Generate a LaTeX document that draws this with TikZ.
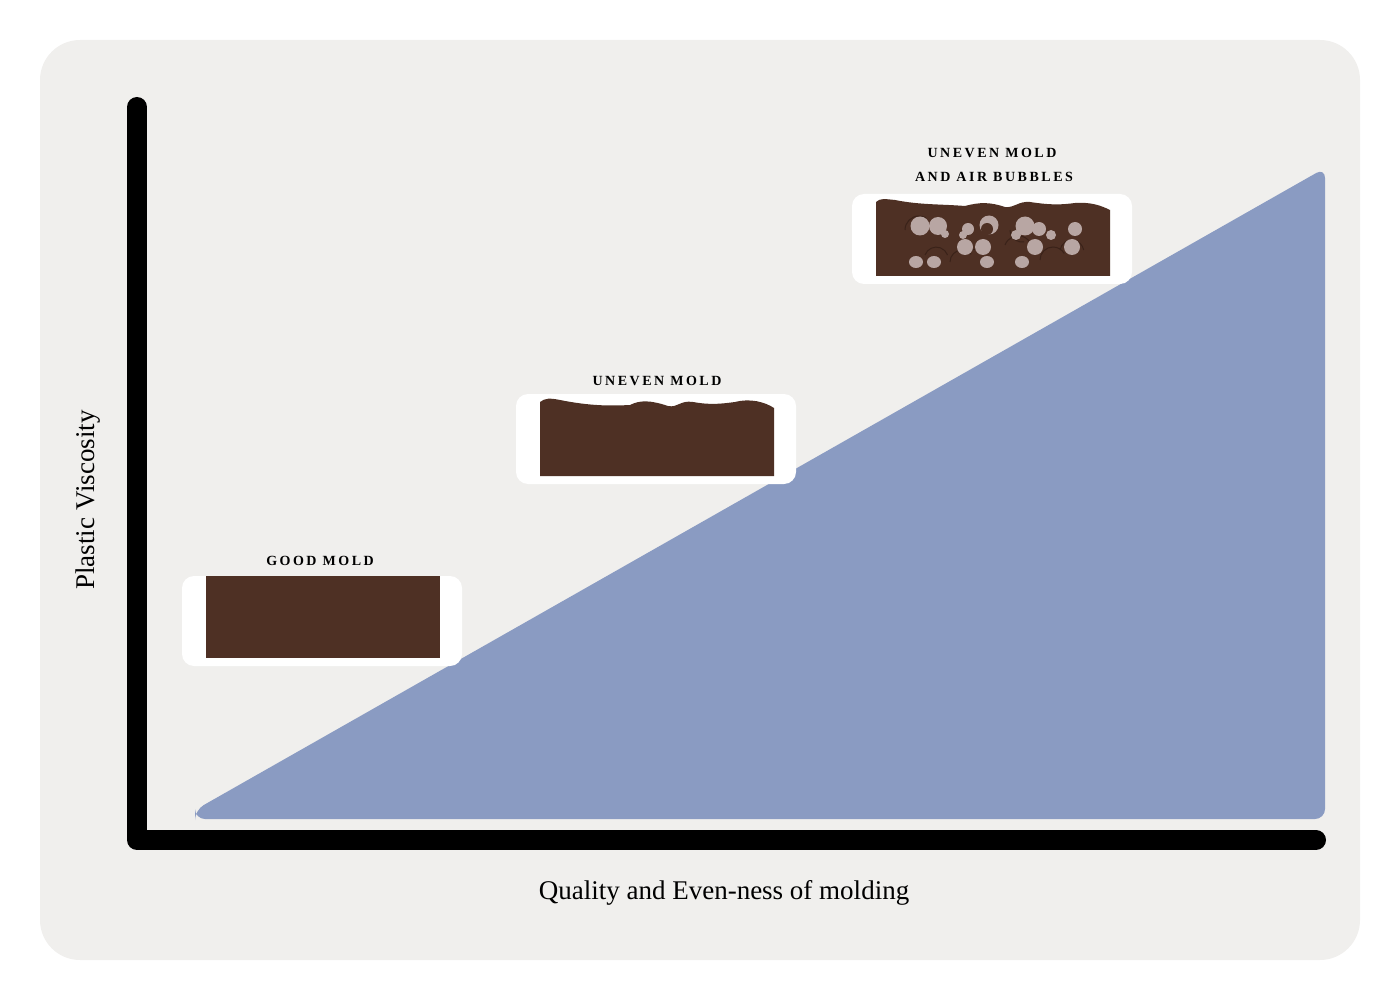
\documentclass[tikz,border=0pt]{standalone}
\usepackage{fontspec}
\setmainfont{Liberation Serif}
\begin{document}
\begin{tikzpicture}[x=1pt,y=-1pt]
\definecolor{bg}{HTML}{F0EFED}
\definecolor{tri}{HTML}{8A9BC2}
\definecolor{choc}{HTML}{4E3024}
\definecolor{bub}{HTML}{B8A6A3}
\definecolor{arcc}{HTML}{3A2219}
\tikzset{tray/.style={fill=white,rounded corners=12pt},
 mold/.style={fill=choc},
 lbl/.style={font=\fontsize{14}{17}\selectfont\bfseries\addfontfeatures{LetterSpace=18}},
 bubble/.style={fill=bub}}
\useasboundingbox (0,0) rectangle (1400,1000);
\fill[bg,rounded corners=40pt] (40,40) rectangle (1360,960);
\fill[tri,rounded corners=10pt] (195,810) -- (1325,168) -- (1325,819) -- (195,819) -- cycle;
\draw[line width=20pt,line cap=round,line join=round] (137,107) -- (137,840) -- (1316,840);
\node[rotate=90,font=\fontsize{27}{30}\selectfont] (ylab) at (88,500) {Plastic Viscosity};
\node[font=\fontsize{27}{30}\selectfont] (xlab) at (724,893) {Quality and Even-ness of molding};
% tray 1
\fill[tray] (182,576) rectangle (462,666);
\fill[mold] (206,576) rectangle (440,658);
\node[lbl] (l1) at (320,561) {GOOD MOLD};
% tray 2
\fill[tray] (516,394) rectangle (796,484);
\fill[mold] (540,476) -- (540,402) .. controls (545,398) and (550,398) .. (560,400)
 .. controls (590,406) and (610,406) .. (630,405) .. controls (640,400) and (650,400) .. (668,406)
 .. controls (678,408) and (680,400) .. (693,402) .. controls (710,405) and (720,404) .. (735,402)
 .. controls (750,398) and (765,402) .. (774,408) -- (774,476) -- cycle;
\node[lbl] (l2) at (657,381) {UNEVEN MOLD};
% tray 3
\fill[tray] (852,194) rectangle (1132,284);
\fill[mold] (876,276) -- (876,202) .. controls (880,198) and (885,199) .. (895,200)
 .. controls (920,205) and (940,204) .. (965,206) .. controls (980,202) and (990,202) .. (1005,207)
 .. controls (1015,208) and (1018,201) .. (1030,202) .. controls (1050,205) and (1060,205) .. (1075,203)
 .. controls (1090,202) and (1100,205) .. (1110,210) -- (1110,276) -- cycle;
\node[lbl] (l3a) at (992,153) {UNEVEN MOLD};
\node[lbl] (l3b) at (994,177) {AND AIR BUBBLES};
\begin{scope}[arcc,line width=1pt]
\draw (905,230) arc (180:300:14);
\draw (925,255) arc (200:340:12);
\draw (950,262) arc (180:320:12);
\draw (960,240) arc (170:10:12);
\draw (1005,245) arc (200:340:14);
\draw (1040,260) arc (180:330:13);
\draw (1060,250) arc (190:350:12);
\draw (1010,230) arc (180:80:12);
\end{scope}
\foreach \x/\y/\r in {920/226/9.5,938/226/9,945/234/4,968/229/6,963/235/4,989/225/9.5,1025/226/9.5,1039/229/7,1051/235/5,1016/235/5,1075/229/7,965/247/8,983/247/8,1035/247/8,1072/247/8}
  \fill[bubble] (\x,\y) circle (\r);
\fill[choc] (987,229) circle (6);
\foreach \x/\y in {916/262,934/262,987/262,1022/262}
  \fill[bubble] (\x,\y) ellipse (7 and 6);
\end{tikzpicture}
\end{document}
